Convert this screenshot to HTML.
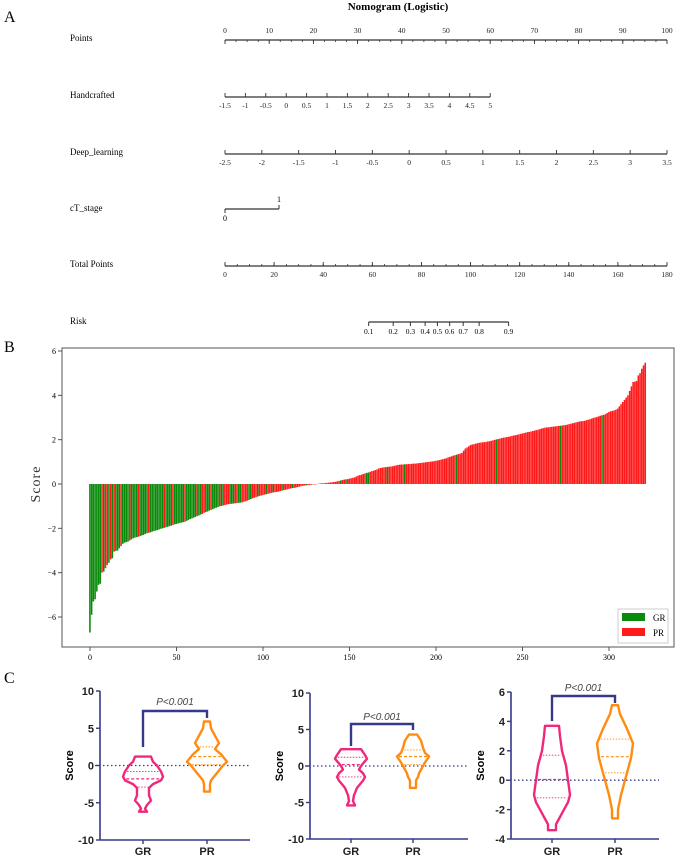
<!DOCTYPE html>
<html><head><meta charset="utf-8"><style>
html,body{margin:0;padding:0;background:#fff;}
svg{display:block;}
.ser{font-family:"Liberation Serif",serif;}
.sans{font-family:"Liberation Sans",sans-serif;}
</style></head><body>
<svg id="fig" width="676" height="860" viewBox="0 0 676 860" xmlns="http://www.w3.org/2000/svg"></svg>
<script>
// ---------- Panel A data ----------
const pointsTicks = [0,10,20,30,40,50,60,70,80,90,100];
const handTicks = [-1.5,-1,-0.5,0,0.5,1,1.5,2,2.5,3,3.5,4,4.5,5];
const deepTicks = [-2.5,-2,-1.5,-1,-0.5,0,0.5,1,1.5,2,2.5,3,3.5];
const totalTicks = [0,20,40,60,80,100,120,140,160,180];
const riskTicks = [0.1,0.2,0.3,0.4,0.5,0.6,0.7,0.8,0.9];
const riskTotals = [58.5,68.5,75.5,81.5,86.5,91.5,97,103.5,115.5];
// ---------- Panel B data ----------
const scores = [
-6.7,-5.9,-5.3,-5.2,-4.85,-4.55,-4.5,-4.0,-3.95,-3.8,
-3.65,-3.55,-3.4,-3.35,-3.05,-3.02,-3.0,-2.9,-2.8,-2.7,
-2.65,-2.62,-2.6,-2.55,-2.5,-2.45,-2.42,-2.4,-2.38,-2.35,
-2.32,-2.3,-2.25,-2.22,-2.2,-2.18,-2.15,-2.12,-2.1,-2.08,
-2.05,-2.02,-2.0,-1.98,-1.95,-1.93,-1.9,-1.88,-1.85,-1.82,
-1.8,-1.78,-1.76,-1.74,-1.72,-1.7,-1.66,-1.62,-1.58,-1.55,
-1.52,-1.48,-1.45,-1.42,-1.38,-1.35,-1.3,-1.27,-1.24,-1.2,
-1.17,-1.14,-1.1,-1.07,-1.04,-1.01,-0.99,-0.97,-0.95,-0.93,
-0.91,-0.9,-0.89,-0.88,-0.87,-0.86,-0.85,-0.84,-0.83,-0.8,
-0.78,-0.75,-0.72,-0.68,-0.65,-0.62,-0.6,-0.57,-0.54,-0.52,
-0.5,-0.48,-0.46,-0.44,-0.42,-0.4,-0.38,-0.37,-0.36,-0.34,
-0.32,-0.3,-0.28,-0.26,-0.24,-0.22,-0.2,-0.19,-0.18,-0.16,
-0.14,-0.12,-0.1,-0.08,-0.07,-0.06,-0.05,-0.04,-0.03,-0.02,
-0.02,-0.01,0.01,0.02,0.03,0.03,0.04,0.05,0.06,0.07,
0.08,0.09,0.1,0.12,0.14,0.16,0.18,0.2,0.21,0.22,
0.24,0.26,0.28,0.3,0.34,0.38,0.4,0.42,0.45,0.48,
0.5,0.52,0.55,0.58,0.6,0.63,0.66,0.7,0.72,0.74,
0.75,0.76,0.77,0.78,0.79,0.8,0.82,0.84,0.86,0.87,
0.88,0.88,0.89,0.89,0.9,0.9,0.91,0.92,0.92,0.93,
0.94,0.95,0.96,0.97,0.98,0.99,1.0,1.01,1.02,1.03,
1.05,1.06,1.08,1.1,1.12,1.14,1.16,1.2,1.22,1.25,
1.28,1.3,1.32,1.35,1.37,1.4,1.5,1.6,1.65,1.7,
1.76,1.78,1.8,1.82,1.84,1.86,1.87,1.88,1.89,1.9,
1.92,1.93,1.95,1.97,1.99,2.01,2.03,2.05,2.07,2.09,
2.1,2.12,2.13,2.15,2.17,2.19,2.2,2.22,2.24,2.26,
2.28,2.3,2.32,2.34,2.35,2.37,2.39,2.41,2.43,2.45,
2.47,2.5,2.52,2.54,2.55,2.56,2.57,2.58,2.59,2.6,
2.61,2.62,2.63,2.64,2.65,2.66,2.68,2.7,2.72,2.74,
2.76,2.78,2.8,2.82,2.83,2.84,2.85,2.88,2.9,2.92,
2.95,2.98,3.0,3.02,3.05,3.08,3.1,3.12,3.15,3.2,
3.25,3.28,3.3,3.32,3.35,3.4,3.5,3.6,3.7,3.8,
3.9,4.0,4.2,4.4,4.6,4.62,4.65,4.9,5.0,5.2,
5.35,5.47];
const groups = ("GGGGGGGPGPPGPGPGGGPG"+
"GGGPGGGGPGGGGGPGGGGGGGGPGGGGPGGGGGGPGGGG"+
"GGPGGPPGGGPGGGGPGGPPPGGGPPGGPPPPGGPPPGPP"+
"PPGPPPGPPPPGPPPPPGPPPPPPPGPPPPPPPPPPPPPP"+
"PPPPPGPPGPPPPPPPPPPPGGPPPPPPPPPPGPPPPPPPPPGPPPPPPPPPPPPPPPPP"+
"PPPPPPPPPPPPGPPPPPPPPPPPPPPPPPPPPPPGPPPPPPPPPPPPPPPPPPPPPPPPPPPPPPPPPPPPGPPPPPPPPPPPPPPPPPPPPPPPGPPPPPPPPPPPPPPPPPPPPPPPPPPPPPP").split("");
const bXTicks = [0,50,100,150,200,250,300];
const bYTicks = [6,4,2,0,-2,-4,-6];
// ---------- Panel C data ----------
const v1GR_y=[1.2,0.5,0,-0.8,-1.5,-2,-2.5,-3,-4,-4.7,-5.3,-5.8,-6.2], v1GR_w=[8,10,14,18,20,18,10,6,6,8,4,2,4], v1GR_q=[-0.8,-1.8,-2.9];
const v1PR_y=[5.9,5,4,3,2.2,1.5,0.5,0,-1,-2,-2.5,-3,-3.5], v1PR_w=[3,4,8,12,8,14,20,16,10,4,3,3,3], v1PR_q=[2.5,1.2,0.1];
const v2GR_y=[2.3,1.5,1,0,-0.5,-1,-1.5,-2,-3,-4,-4.8,-5.4], v2GR_w=[10,14,16,10,8,12,14,12,6,3,2,4], v2GR_q=[1.2,0.2,-1.5];
const v2PR_y=[4.3,3.5,2.5,1.8,1.3,0.5,0,-1,-1.5,-2,-3], v2PR_w=[4,8,10,12,16,12,10,6,5,3,3], v2PR_q=[2.2,1.3,0.2];
const v3GR_y=[3.7,3,2,1,0,-1,-1.5,-2,-2.5,-3,-3.4], v3GR_w=[7,8,10,14,16,18,16,12,8,4,4], v3GR_q=[1.7,0.05,-1.2];
const v3PR_y=[5.1,4.5,3.5,2.5,1.5,0.5,0,-1,-2,-2.6], v3PR_w=[3,5,12,18,16,12,10,6,3,3], v3PR_q=[2.8,1.6,0.5];
const cTicks12=[10,5,0,-5,-10], cTicks3=[6,4,2,0,-2,-4];
const pText="P<0.001";

const NS="http://www.w3.org/2000/svg", svg=document.getElementById('fig');
function el(tag,attrs,parent,text){const e=document.createElementNS(NS,tag);for(const k in attrs)e.setAttribute(k,attrs[k]);if(text!==undefined)e.textContent=text;(parent||svg).appendChild(e);return e;}
function grp(name){const g=el('g',{});return g;}

// ----- Panel A -----
const A=grp('panel-a-nomogram');
const la=el('text',{x:4,y:22,'font-size':16,class:'ser'},A,'A');
const tt=el('text',{x:398,y:10,'font-size':11,'font-weight':'bold','text-anchor':'middle',class:'ser'},A,'Nomogram (Logistic)');
const X0=225,X1=667;
const px=p=>X0+(X1-X0)*p/100;
function scaleRow(name,label,y,vals,toP,labelsAbove,minor){
  const g=grp(name);A.appendChild(g);
  const t=el('text',{x:70,y:y+1,'font-size':9,class:'ser'},g,label);
  const xs=vals.map(toP);
  el('line',{x1:Math.min(...xs),x2:Math.max(...xs),y1:y,y2:y,stroke:'#333','stroke-width':1.2},g);
  if(minor)minor.forEach(m=>{el('line',{x1:m,x2:m,y1:y,y2:labelsAbove?y+2:y-2,stroke:'#333','stroke-width':0.8},g);});
  vals.forEach((v,i)=>{const x=xs[i];el('line',{x1:x,x2:x,y1:y,y2:labelsAbove?y+4:y-4,stroke:'#333','stroke-width':0.9},g);
    el('text',{x:x,y:labelsAbove?y-7:y+11,'font-size':7.5,'text-anchor':'middle',class:'ser',fill:'#222'},g,String(v));});
}
const ptMinor=[];for(let p=0;p<=100;p+=2.5)ptMinor.push(px(p));
scaleRow('points-scale','Points',40,pointsTicks,v=>px(v),true,ptMinor);
scaleRow('handcrafted-scale','Handcrafted',97,handTicks,v=>px((v+1.5)/6.5*60),false);
scaleRow('deep-learning-scale','Deep_learning',154,deepTicks,v=>px((v+2.5)/6*100),false);
// cT stage
{const g=grp('ct-stage-scale');A.appendChild(g);
 const t=el('text',{x:70,y:211,'font-size':9,class:'ser'},g,'cT_stage');
 el('line',{x1:225,x2:279,y1:209,y2:209,stroke:'#333','stroke-width':1.2},g);
 el('line',{x1:225,x2:225,y1:209,y2:213,stroke:'#333'},g);el('line',{x1:279,x2:279,y1:209,y2:205,stroke:'#333'},g);
 el('text',{x:279,y:202,'font-size':8,'text-anchor':'middle',class:'ser'},g,'1');el('text',{x:225,y:221,'font-size':8,'text-anchor':'middle',class:'ser'},g,'0');}
const tpx=v=>X0+(X1-X0)*v/180;
const totMinor=[];for(let v=0;v<=180;v+=5)totMinor.push(tpx(v));
scaleRow('total-points-scale','Total Points',266,totalTicks,tpx,false,totMinor.map(x=>x));
// fix minor direction for total points (ticks above line)
{const g=grp('risk-scale');A.appendChild(g);
 const t=el('text',{x:70,y:324,'font-size':9,class:'ser'},g,'Risk');
 const xs=riskTotals.map(tpx);
 el('line',{x1:xs[0],x2:xs[xs.length-1],y1:322,y2:322,stroke:'#333','stroke-width':1.2},g);
 riskTicks.forEach((r,i)=>{el('line',{x1:xs[i],x2:xs[i],y1:322,y2:326,stroke:'#333'},g);el('text',{x:xs[i],y:334,'font-size':7.5,'text-anchor':'middle',class:'ser'},g,String(r));});}

// ----- Panel B -----
const B=grp('panel-b-waterfall');
const lb=el('text',{x:4,y:352,'font-size':16,class:'ser'},B,'B');
const bx=i=>90+i*(609-90)/300, by=v=>484-v*(484-351)/6;
const bw=(609-90)/300;
const bars=grp('bars');B.appendChild(bars);
scores.forEach((s,i)=>{const y0=by(0),y1=by(s);
  const r=el('rect',{x:bx(i)-bw/2,y:Math.min(y0,y1),width:bw*0.9,height:Math.abs(y1-y0),fill:groups[i]==='G'?'#0a8a0a':'#ff1a1a'},bars);
  
  });
el('rect',{x:62,y:348,width:612,height:299,fill:'none',stroke:'#555','stroke-width':1},B);
bYTicks.forEach(v=>{el('line',{x1:58,x2:62,y1:by(v),y2:by(v),stroke:'#555'},B);el('text',{x:56,y:by(v)+3,'font-size':8,'text-anchor':'end',class:'ser'},B,v<0?'\u2212'+(-v):String(v));});
bXTicks.forEach(v=>{el('line',{x1:bx(v),x2:bx(v),y1:647,y2:651,stroke:'#555'},B);el('text',{x:bx(v),y:660,'font-size':8,'text-anchor':'middle',class:'ser'},B,String(v));});
const sy=el('text',{x:40,y:484,'font-size':14,'text-anchor':'middle',transform:'rotate(-90 40 484)',class:'ser',fill:'#333','letter-spacing':'1'},B,'Score');
{const L=grp('legend');B.appendChild(L);
 el('rect',{x:618,y:609,width:50,height:34,fill:'#fff',stroke:'#ccc'},L);
 el('rect',{x:622,y:613,width:23,height:8,fill:'#0a8a0a'},L);el('text',{x:653,y:621,'font-size':9,class:'ser'},L,'GR');
 el('rect',{x:622,y:628,width:23,height:8,fill:'#ff1a1a'},L);el('text',{x:653,y:636,'font-size':9,class:'ser'},L,'PR');}

// ----- Panel C -----
const C=grp('panel-c-violins');
const lc=el('text',{x:4,y:683,'font-size':16,class:'ser'},C,'C');
const NAVY='#34398a',PINK='#f0287c',ORANGE='#ff8c10';
function violin(g,cx,ys,ws,qs,yf,col){
  let d='';
  ys.forEach((y,i)=>{d+=(i?'L':'M')+(cx+ws[i]).toFixed(1)+','+yf(y).toFixed(1);});
  for(let i=ys.length-1;i>=0;i--)d+='L'+(cx-ws[i]).toFixed(1)+','+yf(ys[i]).toFixed(1);
  const p=el('path',{d:d+'Z',fill:'none',stroke:col,'stroke-width':2.4,'stroke-linejoin':'round'},g);
  
  
  qs.forEach((q,i)=>{let w=0;for(let k=0;k<ys.length-1;k++){if(q<=ys[k]&&q>=ys[k+1]){const t=(ys[k]-q)/(ys[k]-ys[k+1]);w=ws[k]+(ws[k+1]-ws[k])*t;}}
    el('line',{x1:cx-w+2,x2:cx+w-2,y1:yf(q),y2:yf(q),stroke:col,'stroke-width':i===1?1.2:0.9,'stroke-dasharray':i===1?'3,2':'1.5,1.5'},g);});
}
function cplot(name,ax,xr,top,bot,tmax,tmin,ticks,gx,px2,bL,bTop,bR,pY,vGR,vPR){
  const g=grp(name);C.appendChild(g);
  const yf=v=>top+(tmax-v)/(tmax-tmin)*(bot-top);
  el('line',{x1:ax-5,x2:xr,y1:yf(0),y2:yf(0),stroke:NAVY,'stroke-width':1.3,'stroke-dasharray':'1.5,2.5'},g);
  violin(g,gx,vGR[0],vGR[1],vGR[2],yf,PINK);
  violin(g,px2,vPR[0],vPR[1],vPR[2],yf,ORANGE);
  el('path',{d:`M${gx},${bL}V${bTop}H${px2}V${bR}`,fill:'none',stroke:NAVY,'stroke-width':2.4},g);
  el('text',{x:(gx+px2)/2,y:pY,'font-size':10,'font-style':'italic','text-anchor':'middle',class:'sans',fill:'#444'},g,pText);
  el('line',{x1:ax,x2:ax,y1:top,y2:bot,stroke:NAVY,'stroke-width':1.6},g);
  el('line',{x1:ax,x2:xr,y1:bot,y2:bot,stroke:NAVY,'stroke-width':1.6},g);
  ticks.forEach(v=>{el('line',{x1:ax-4,x2:ax,y1:yf(v),y2:yf(v),stroke:NAVY,'stroke-width':1.4},g);
    el('text',{x:ax-6,y:yf(v)+4,'font-size':11,'font-weight':'bold','text-anchor':'end',class:'sans',fill:'#222'},g,String(v));});
  [[gx,'GR'],[px2,'PR']].forEach(([x,t])=>{el('line',{x1:x,x2:x,y1:bot,y2:bot+4,stroke:NAVY,'stroke-width':1.4},g);
    el('text',{x:x,y:855,'font-size':11,'font-weight':'bold','text-anchor':'middle',class:'sans',fill:'#222'},g,t);});
  const s=el('text',{x:ax-27,y:(top+bot)/2,'font-size':11,'font-weight':'bold','text-anchor':'middle',class:'sans',transform:`rotate(-90 ${ax-27} ${(top+bot)/2})`},g,'Score');
  
}
cplot('violin-plot-1',100,250,691,840,10,-10,cTicks12,143,207,747,711,718,705,[v1GR_y,v1GR_w,v1GR_q],[v1PR_y,v1PR_w,v1PR_q]);
cplot('violin-plot-2',310,468,693,839,10,-10,cTicks12,351,413,746,724,730,720,[v2GR_y,v2GR_w,v2GR_q],[v2PR_y,v2PR_w,v2PR_q]);
cplot('violin-plot-3',511,659,692,839,6,-4,cTicks3,552,615,721,696,703,691,[v3GR_y,v3GR_w,v3GR_q],[v3PR_y,v3PR_w,v3PR_q]);
</script>
</body></html>
